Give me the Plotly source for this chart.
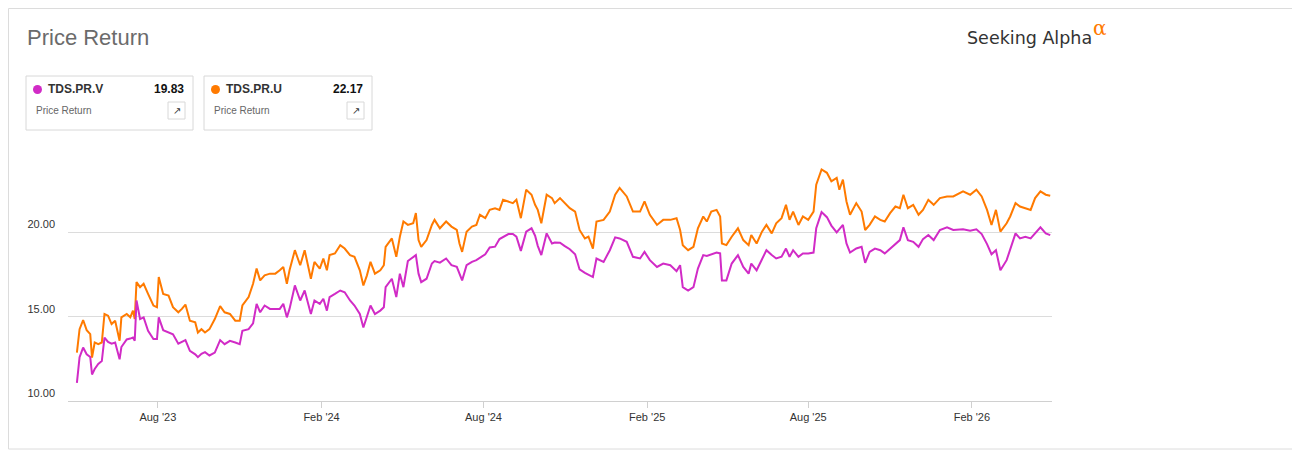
import plotly.graph_objects as go
import pandas as pd

# Days since 2023-08-01
day_offset = [
 -91,-88,-84,-80,-76,-74,-71,-67,-63,-60,-56,-52,-48,-43,-41,-35,-31,-28,-26,-24,-20,-16,-11,-5,-1,1,6,12,17,23,27,31,36,42,45,49,53,58,64,70,75,81,87,92,95,102,107,111,115,120,126,132,137,141,145,148,154,160,165,172,176,182,186,190,193,199,205,210,216,221,227,231,235,239,244,250,254,256,263,268,
 272,276,281,287,290,293,296,302,308,311,317,324,330,336,339,342,347,353,358,362,368,373,379,384,388,394,399,403,408,414,420,424,427,431,437,443,446,452,457,463,469,474,480,484,489,493,501,508,514,519,527,534,542,547,553,561,568,576,583,587,590,596,602,607,613,617,622,628,
 632,634,639,645,652,658,664,667,673,679,684,690,695,701,706,710,714,720,725,731,737,740,746,752,757,763,766,770,774,778,785,791,795,800,806,812,817,823,829,834,838,843,849,855,860,866,872,879,887,894,905,913,920,926,932,937,942,947,954,958,964,969,975,981,986,992,998,1003]

tds_pr_u = [
 12.87,14.26,14.8,14.2,13.96,12.57,13.47,13.37,13.47,15.16,15.06,14.56,14.76,13.57,14.96,15.16,14.96,15.36,14.86,17.05,16.75,16.95,16.35,15.66,15.56,17.35,16.35,16.25,15.56,15.26,15.46,15.72,14.76,14.66,14.06,14.26,14.06,14.26,14.86,15.62,15.26,15.16,14.76,14.76,15.66,16.16,16.95,17.85,17.15,17.45,17.55,17.55,17.75,17.95,16.95,17.75,18.94,18.05,18.94,17.25,18.25,17.85,18.45,17.75,18.65,18.75,19.24,19.04,18.65,18.55,17.75,16.85,17.45,18.25,17.55,17.75,18.05,19.14,19.64,18.55,
 19.74,20.64,20.44,20.54,21.14,19.54,19.14,19.54,20.44,20.74,20.24,20.64,20.34,20.14,19.34,18.84,20.04,20.34,20.44,21.04,20.84,21.33,21.43,21.33,21.93,21.83,21.73,21.93,20.84,22.53,22.23,21.63,21.33,20.54,22.23,22.03,21.73,22.03,21.73,21.43,21.23,20.14,19.64,19.74,19.04,20.64,20.74,21.23,22.23,22.63,22.13,21.23,21.23,21.83,21.04,20.44,20.74,20.74,20.84,20.14,19.24,18.94,19.14,20.24,20.94,20.64,21.23,21.33,
 20.94,19.34,19.24,19.74,20.24,19.54,19.24,19.84,19.34,20.04,20.44,19.94,20.54,20.84,21.63,20.74,21.23,20.44,20.94,20.74,21.23,22.83,23.73,23.53,23.03,23.23,22.53,23.13,21.83,21.04,21.73,21.23,20.14,20.44,20.94,20.74,20.64,21.14,21.53,21.43,22.23,21.43,21.63,21.04,21.33,21.93,21.63,22.03,22.13,22.13,22.43,22.23,22.53,22.13,21.33,20.44,21.33,20.04,20.54,20.94,21.73,21.53,21.43,21.33,22.03,22.43,22.23,22.17]

tds_pr_v = [
 11.08,12.6,13.17,12.77,12.61,11.57,11.9,12.2,12.37,13.76,13.5,13.4,13.47,12.47,13.2,13.65,13.7,13.76,13.57,15.96,14.86,14.96,14.16,13.67,13.67,14.96,14.2,14.06,13.96,13.4,13.5,13.61,12.97,12.77,12.6,12.8,12.9,12.7,12.87,13.61,13.37,13.57,13.47,13.37,14.16,14.26,14.6,15.76,15.26,15.66,15.46,15.46,15.46,15.76,14.96,15.46,16.85,15.96,16.55,15.16,15.96,15.76,16.06,15.36,16.16,16.35,16.55,16.45,15.96,15.66,15.16,14.36,15.06,15.66,15.16,15.36,15.56,16.75,17.25,16.16,
 17.55,16.75,18.3,18.5,18.65,17.55,17.05,17.25,18.15,18.3,18.2,18.45,18.05,17.95,17.5,17.15,18.05,18.25,18.35,18.5,18.7,19.1,19.15,19.6,19.74,19.9,19.9,19.74,18.9,20.04,20.24,19.8,19.2,18.65,19.94,19.34,19.4,19.38,19.2,19.0,18.7,17.8,17.6,17.5,17.35,18.45,18.25,18.94,19.7,19.64,19.44,18.55,18.45,18.84,18.35,17.95,18.15,18.05,17.7,18.05,16.75,16.55,16.75,17.85,18.65,18.6,18.7,18.8,
 18.75,17.15,17.15,18.15,18.65,17.95,17.55,18.15,17.75,18.45,18.94,18.65,18.45,18.55,19.04,18.55,18.94,18.55,18.75,18.75,18.8,20.24,21.2,20.9,20.4,20.0,20.2,20.44,19.34,18.8,19.04,19.14,18.19,18.84,19.04,18.94,18.75,19.04,19.34,19.54,20.3,19.54,19.44,19.14,19.6,19.84,19.54,20.14,20.3,20.14,20.18,20.1,20.18,19.9,19.3,18.7,18.94,17.75,18.35,19.04,19.94,19.64,19.74,19.64,19.94,20.3,19.94,19.83]

x_tick_dates = ["2023-08-01", "2024-02-01", "2024-08-01", "2025-02-01", "2025-08-01", "2026-02-01"]
x_tick_labels = ["Aug '23", "Feb '24", "Aug '24", "Feb '25", "Aug '25", "Feb '26"]
y_tick_vals = [10, 15, 20, 25]
y_tick_labels = ["10.00", "15.00", "20.00", ""]

PURPLE = "#d12bc6"
ORANGE = "#ff7a00"
FONT = "Liberation Sans, Arial, sans-serif"
OFF = 8  # page body margin

dates = pd.Timestamp("2023-08-01") + pd.to_timedelta(day_offset, unit="D")

fig = go.Figure()
fig.add_trace(go.Scatter(x=dates, y=tds_pr_u, mode="lines", name="TDS.PR.U",
                         line=dict(color=ORANGE, width=2)))
fig.add_trace(go.Scatter(x=dates, y=tds_pr_v, mode="lines", name="TDS.PR.V",
                         line=dict(color=PURPLE, width=2)))

W, H = 1300 - OFF, 450 - OFF
L, R, T, B = 68 - OFF, 1052 - OFF, 148 - OFF, 401 - OFF

fig.update_layout(
    width=W, height=H,
    margin=dict(l=L, r=W - R, t=T, b=H - B, pad=0),
    paper_bgcolor="white", plot_bgcolor="white",
    showlegend=False,
    font=dict(family=FONT, size=11, color="#333"),
    xaxis=dict(range=[pd.Timestamp("2023-04-22"), pd.Timestamp("2026-05-02")],
               tickvals=x_tick_dates, ticktext=x_tick_labels,
               showgrid=False, showline=True, linecolor="#d0d0d0",
               ticks="outside", ticklen=6, tickcolor="#d0d0d0",
               tickfont=dict(size=11, color="#333")),
    yaxis=dict(range=[10, 25], tickvals=y_tick_vals, ticktext=y_tick_labels,
               showgrid=True, gridcolor="#dcdcdc", zeroline=False,
               ticklabelposition="outside top", ticks="", ticklabelstandoff=12,
               tickfont=dict(size=11, color="#333")),
)

def px(xp, yp):
    xp -= OFF; yp -= OFF
    return (xp - L) / (R - L), (B - yp) / (B - T)

annotations = []
all_shapes = []
x0, y0 = px(8.5, 8.5); x1, y1 = px(1299, 449)
all_shapes.append(dict(type="rect", xref="paper", yref="paper", x0=x0, y0=y0, x1=x1, y1=y1,
                       line=dict(color="#dcdcdc", width=1), layer="below"))
tx, ty = px(25, 37)
annotations.append(dict(text="Price Return", x=tx, y=ty, xref="paper", yref="paper",
                        xanchor="left", yanchor="middle", showarrow=False,
                        font=dict(size=22, color="#6b6b6b", family=FONT)))
lx, ly = px(965, 38)
annotations.append(dict(text="Seeking Alpha", x=lx, y=ly, xref="paper", yref="paper",
                        xanchor="left", yanchor="middle", showarrow=False,
                        font=dict(size=17.5, color="#333", family="DejaVu Sans, sans-serif")))
ax, ay = px(1100, 28)
annotations.append(dict(text="α", x=ax, y=ay, xref="paper", yref="paper",
                        xanchor="center", yanchor="middle", showarrow=False,
                        font=dict(size=20, color=ORANGE, family="DejaVu Serif, serif")))

boxes = [(26, 193, "TDS.PR.V", "19.83", PURPLE), (204, 372, "TDS.PR.U", "22.17", ORANGE)]
for bx0, bx1, name, val, col in boxes:
    a, b = px(bx0, 130); c, d = px(bx1, 76)
    all_shapes.append(dict(type="rect", xref="paper", yref="paper", x0=a, y0=b, x1=c, y1=d,
                           line=dict(color="#d8d8d8", width=1), fillcolor="white"))
    a, b = px(bx0 + 7, 94); c, d = px(bx0 + 16, 85)
    all_shapes.append(dict(type="circle", xref="paper", yref="paper", x0=a, y0=b, x1=c, y1=d,
                           line=dict(color=col, width=0), fillcolor=col))
    a, b = px(bx1 - 25, 119); c, d = px(bx1 - 8, 102)
    all_shapes.append(dict(type="rect", xref="paper", yref="paper", x0=a, y0=b, x1=c, y1=d,
                           line=dict(color="#d8d8d8", width=1), fillcolor="white"))
    p, q = px(bx0 + 20, 89)
    annotations.append(dict(text="<b>%s</b>" % name, x=p, y=q, xref="paper", yref="paper",
                            xanchor="left", yanchor="middle", showarrow=False,
                            font=dict(size=12, color="#333", family=FONT)))
    p, q = px(bx1 - 7, 89)
    annotations.append(dict(text="<b>%s</b>" % val, x=p, y=q, xref="paper", yref="paper",
                            xanchor="right", yanchor="middle", showarrow=False,
                            font=dict(size=12, color="#111", family=FONT)))
    p, q = px(bx0 + 8, 110)
    annotations.append(dict(text="Price Return", x=p, y=q, xref="paper", yref="paper",
                            xanchor="left", yanchor="middle", showarrow=False,
                            font=dict(size=10, color="#666", family=FONT)))
    p, q = px(bx1 - 16.5, 110.5)
    annotations.append(dict(text="↗", x=p, y=q, xref="paper", yref="paper",
                            xanchor="center", yanchor="middle", showarrow=False,
                            font=dict(size=10, color="#333", family="DejaVu Sans")))

fig.update_layout(shapes=all_shapes, annotations=annotations)
fig.write_html("out.html")
